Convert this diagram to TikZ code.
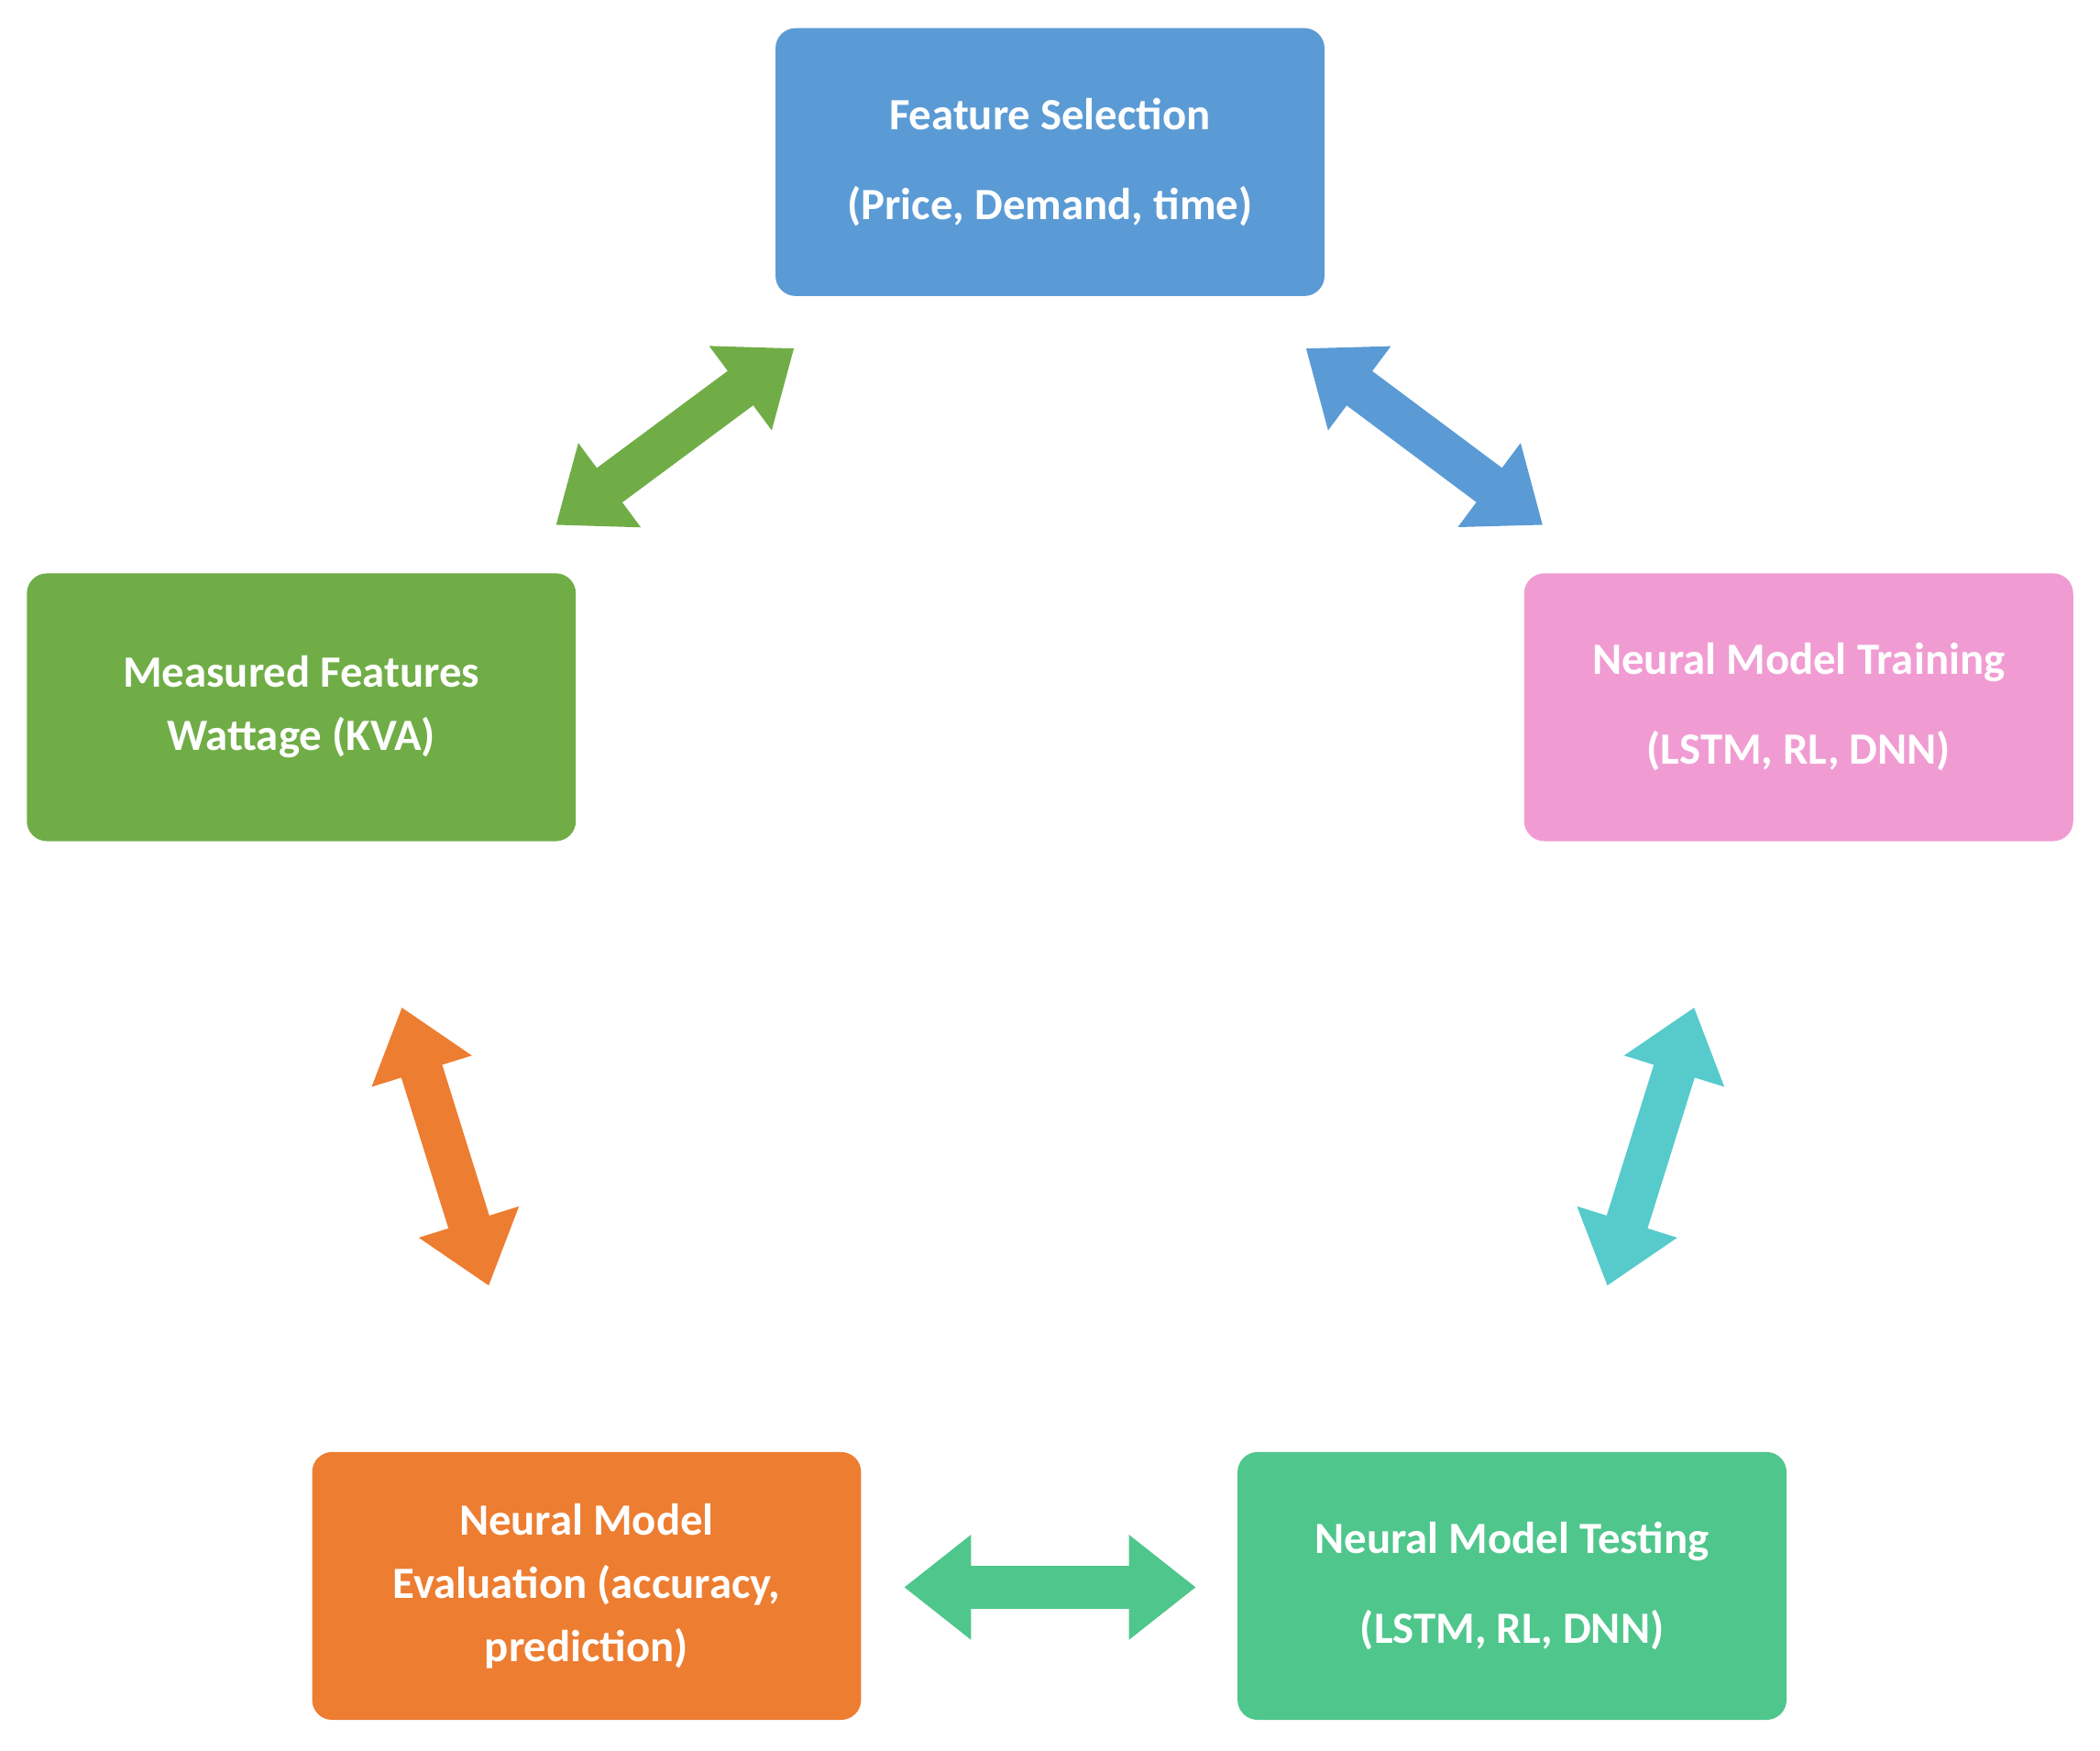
\documentclass[tikz,border=0pt]{standalone}
\usepackage{fontspec}
\setmainfont{Carlito}
\usetikzlibrary{arrows.meta}
\definecolor{cblue}{HTML}{5B9BD5}
\definecolor{cgreen}{HTML}{70AD47}
\definecolor{cpink}{HTML}{F09CD3}
\definecolor{corange}{HTML}{ED7D31}
\definecolor{cteal}{HTML}{4FC68C}
\definecolor{ccyan}{HTML}{57CBCB}
\begin{document}
\begin{tikzpicture}[x=0.02cm,y=-0.02cm,
 box/.style={rounded corners=0.3cm,minimum width=8.2cm,minimum height=4cm,text=white,font=\fontsize{19}{24}\selectfont\bfseries,align=center,inner sep=0},
 darr/.style={line width=0.64cm,{Triangle[width=1.5cm,length=1cm]}-{Triangle[width=1.5cm,length=1cm]}}]
\useasboundingbox (0,0) rectangle (1568,1307);
\node[box,fill=cblue] (fs) at (784,121) {Feature Selection\\[0.5cm](Price, Demand, time)};
\node[box,fill=cgreen] (mf) at (225,528) {Measured Features\\[0.1cm]Wattage (KVA)};
\node[box,fill=cpink] (tr) at (1343,528) {Neural Model Training\\[0.5cm](LSTM, RL, DNN)};
\node[box,fill=corange] (ev) at (438,1184) {Neural Model\\[0.1cm]Evaluation (accuracy,\\[0.1cm]prediction)};
\node[box,fill=cteal] (te) at (1129,1184) {Neural Model Testing\\[0.5cm](LSTM, RL, DNN)};
\coordinate (g1) at (415,392); \coordinate (g2) at (593,260);
\coordinate (b1) at (975,260); \coordinate (b2) at (1152,392);
\coordinate (o1) at (300,752); \coordinate (o2) at (365,960);
\coordinate (c1) at (1265,752); \coordinate (c2) at (1200,960);
\coordinate (t1) at (675,1185); \coordinate (t2) at (893,1185);
\draw[darr,cgreen] (g1) -- (g2);
\draw[darr,cblue] (b1) -- (b2);
\draw[darr,corange] (o1) -- (o2);
\draw[darr,ccyan] (c1) -- (c2);
\draw[darr,cteal] (t1) -- (t2);
\end{tikzpicture}
\end{document}
